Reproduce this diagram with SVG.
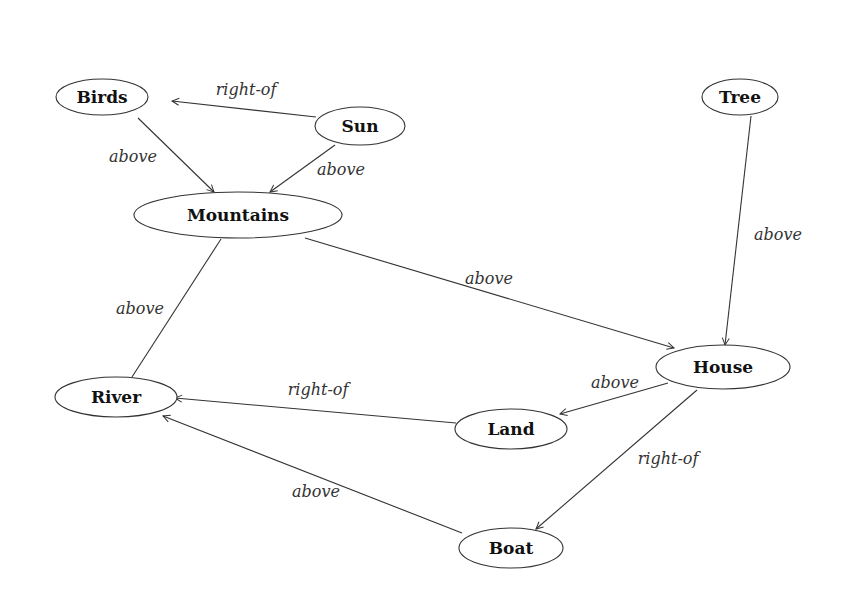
<svg xmlns="http://www.w3.org/2000/svg" width="856" height="600" viewBox="0 0 856 600">
<style>
.n ellipse{fill:#fff;stroke:#333;stroke-width:1.1}
.n text{font-family:"DejaVu Serif","Liberation Serif",serif;font-weight:bold;font-size:17px;text-anchor:middle;fill:#111}
#edges line{stroke:#333;stroke-width:1.1}
.l{font-family:"DejaVu Serif","Liberation Serif",serif;font-style:italic;font-size:16px;fill:#333;text-anchor:middle}
</style>
<defs><marker id="a" markerWidth="10" markerHeight="10" refX="8" refY="5" orient="auto" markerUnits="userSpaceOnUse"><path d="M1,1.5 L8,5 L1,8.5" fill="none" stroke="#333" stroke-width="1"/></marker></defs>
<rect width="856" height="600" fill="#fff"/>
<g id="edges">
<line x1="316" y1="117" x2="172" y2="101" marker-end="url(#a)"/>
<line x1="138" y1="118" x2="214" y2="192" marker-end="url(#a)"/>
<line x1="335" y1="145" x2="270" y2="192" marker-end="url(#a)"/>
<line x1="751" y1="116" x2="725" y2="345" marker-end="url(#a)"/>
<line x1="305" y1="238" x2="674" y2="348" marker-end="url(#a)"/>
<line x1="221" y1="239" x2="132" y2="377"/>
<line x1="456" y1="423" x2="175" y2="398" marker-end="url(#a)"/>
<line x1="668" y1="383" x2="560" y2="414" marker-end="url(#a)"/>
<line x1="462" y1="533" x2="163" y2="416" marker-end="url(#a)"/>
<line x1="697" y1="390" x2="536" y2="529" marker-end="url(#a)"/>
<text class="l" x="246" y="95">right-of</text>
<text class="l" x="133" y="162">above</text>
<text class="l" x="341" y="175">above</text>
<text class="l" x="778" y="240">above</text>
<text class="l" x="489" y="284">above</text>
<text class="l" x="140" y="314">above</text>
<text class="l" x="318" y="395">right-of</text>
<text class="l" x="615" y="388">above</text>
<text class="l" x="316" y="497">above</text>
<text class="l" x="668" y="464">right-of</text>
</g>
<g id="birds" class="n"><ellipse cx="102" cy="97" rx="46" ry="18"/><text x="102" y="103">Birds</text></g>
<g id="sun" class="n"><ellipse cx="360" cy="126" rx="45" ry="19"/><text x="360" y="132">Sun</text></g>
<g id="tree" class="n"><ellipse cx="740" cy="97" rx="38" ry="18"/><text x="740" y="103">Tree</text></g>
<g id="mountains" class="n"><ellipse cx="238" cy="215" rx="104" ry="23"/><text x="238" y="221">Mountains</text></g>
<g id="house" class="n"><ellipse cx="723" cy="367" rx="67" ry="22"/><text x="723" y="373">House</text></g>
<g id="river" class="n"><ellipse cx="116" cy="397" rx="61" ry="20"/><text x="116" y="403">River</text></g>
<g id="land" class="n"><ellipse cx="511" cy="429" rx="56" ry="20"/><text x="511" y="435">Land</text></g>
<g id="boat" class="n"><ellipse cx="511" cy="548" rx="52" ry="20"/><text x="511" y="554">Boat</text></g>
</svg>
